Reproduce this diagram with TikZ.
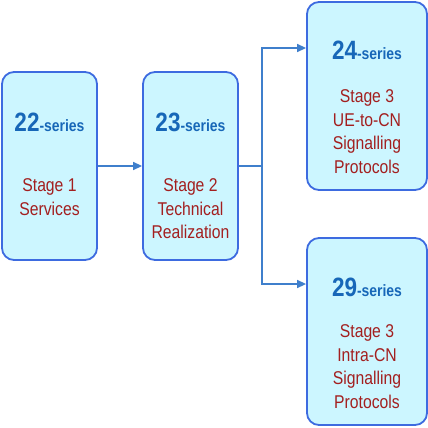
\documentclass[tikz,border=0pt]{standalone}
\usepackage{xcolor}
\usepackage{fontspec}
\setmainfont{Liberation Sans}
\newfontfamily\narrowsans[FakeStretch=0.85]{Liberation Sans}
\usepackage{tikz}
\usetikzlibrary{positioning, arrows.meta}
\definecolor{specblue}{HTML}{3D6BE0}
\definecolor{specfill}{HTML}{CCF6FF}
\definecolor{serieblue}{HTML}{1767B8}
\definecolor{stagered}{HTML}{A31F1F}
\definecolor{linkblue}{HTML}{3F7FCC}
\tikzset{
  specbox/.style={draw=specblue, fill=specfill, line width=1.8pt, rounded corners=12pt},
  serielabel/.style={text=serieblue, font=\narrowsans\bfseries, inner sep=0pt},
  stagelabel/.style={text=stagered, align=center, inner sep=0pt,
                     font=\narrowsans\fontsize{18.5}{23.5}\selectfont},
  link/.style={draw=linkblue, line width=1.4pt, -{Triangle[length=9pt,width=8pt]}}
}
\newcommand{\serie}[1]{{\fontsize{26.5}{28}\selectfont #1}{\fontsize{16.4}{18}\selectfont -series}}

\begin{document}
\begin{tikzpicture}[x=1pt, y=-1pt]
  \useasboundingbox (0,0) rectangle (428,428);
  % the four spec boxes
  \node[specbox, minimum width=95pt, minimum height=188pt] (s22) at (49.5,166) {};
  \node[specbox, minimum width=95pt, minimum height=188pt] (s23) at (190.5,166) {};
  \node[specbox, minimum width=120pt, minimum height=188pt] (s24) at (367,96) {};
  \node[specbox, minimum width=120pt, minimum height=187pt] (s29) at (367,331.5) {};

  % texts
  \node[serielabel] (t22) at (49.5,122) {\serie{22}};
  \node[stagelabel] (b22) at (49.5,197) {Stage 1\\Services};
  \node[serielabel] (t23) at (190.5,122) {\serie{23}};
  \node[stagelabel] (b23) at (190.5,209) {Stage 2\\Technical\\Realization};
  \node[serielabel] (t24) at (367,50) {\serie{24}};
  \node[stagelabel] (b24) at (367,131.5) {Stage 3\\UE-to-CN\\Signalling\\Protocols};
  \node[serielabel] (t29) at (367,287) {\serie{29}};
  \node[stagelabel] (b29) at (367,366.5) {Stage 3\\Intra-CN\\Signalling\\Protocols};

  % connectors
  \coordinate (split) at (262,166);
  \coordinate (in24) at (s24.west |- 0,48);
  \coordinate (in29) at (s29.west |- 0,284);
  \draw[link] (s22) -- (s23);
  \draw[draw=linkblue, line width=1.4pt] (s23) -- (split);
  \draw[link] (split) |- (in24);
  \draw[link] (split) |- (in29);
\end{tikzpicture}
\end{document}
